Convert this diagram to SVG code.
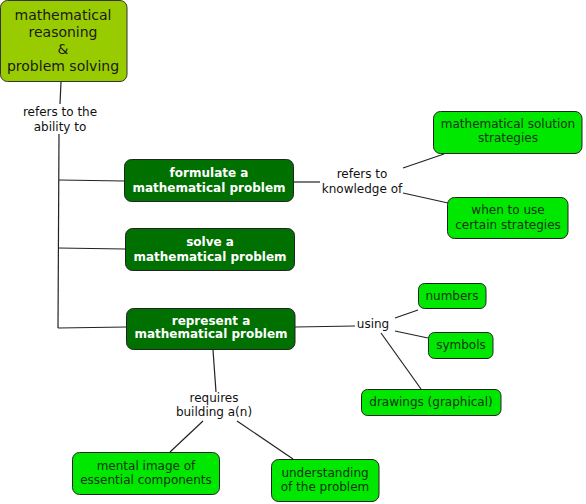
<svg xmlns="http://www.w3.org/2000/svg" width="586" height="504" viewBox="0 0 586 504">
<style>
text{font-family:"DejaVu Sans",Verdana,sans-serif;font-size:12px;text-anchor:middle;dominant-baseline:central;fill:#1a1a1a}
.root rect{fill:#99cc00;stroke:#333;stroke-width:1}
.root text{font-size:14px}
.dark rect{fill:#007000;stroke:#222;stroke-width:1}
.dark text{fill:#fff;font-weight:bold}
.lite rect{fill:#00e800;stroke:#222;stroke-width:1}
.lite text{fill:#143314}
.lbl text{fill:#111}
#connectors line{stroke:#222;stroke-width:1.2}
</style>
<rect width="586" height="504" fill="#fff"/>
<g id="connectors">
<line x1="61" y1="82" x2="60" y2="104"/>
<line x1="59" y1="134" x2="58" y2="328"/>
<line x1="59" y1="180" x2="124" y2="181"/>
<line x1="58" y1="248" x2="125" y2="249"/>
<line x1="58" y1="328" x2="127" y2="327"/>
<line x1="293" y1="182" x2="320" y2="182"/>
<line x1="403" y1="168" x2="444" y2="154"/>
<line x1="403" y1="193" x2="448" y2="203"/>
<line x1="295" y1="327" x2="355" y2="326"/>
<line x1="395" y1="318" x2="418" y2="310"/>
<line x1="395" y1="331" x2="428" y2="338"/>
<line x1="381" y1="333" x2="421" y2="389"/>
<line x1="213" y1="350" x2="216" y2="392"/>
<line x1="203" y1="421" x2="170" y2="452"/>
<line x1="237" y1="421" x2="293" y2="459"/>
</g>
<g id="n-root" class="root">
<rect x="0.5" y="0.5" width="126.5" height="81" rx="7"/>
<text x="63" y="15">mathematical</text>
<text x="63" y="32">reasoning</text>
<text x="63" y="49">&amp;</text>
<text x="63" y="66">problem solving</text>
</g>
<g id="l-refers-ability" class="lbl">
<rect x="18" y="104" width="84" height="30" fill="#fff"/>
<text x="60" y="112">refers to the</text>
<text x="60" y="127">ability to</text>
</g>
<g id="n-formulate" class="dark">
<rect x="124.5" y="159.5" width="169" height="42" rx="7"/>
<text x="209" y="173">formulate a</text>
<text x="209" y="188">mathematical problem</text>
</g>
<g id="n-solve" class="dark">
<rect x="125.5" y="228.5" width="169" height="42" rx="7"/>
<text x="210" y="242">solve a</text>
<text x="210" y="257">mathematical problem</text>
</g>
<g id="n-represent" class="dark">
<rect x="126.5" y="308.5" width="168.5" height="41" rx="7"/>
<text x="211" y="321">represent a</text>
<text x="211" y="334">mathematical problem</text>
</g>
<g id="l-knowledge" class="lbl">
<text x="362" y="174">refers to</text>
<text x="362" y="189">knowledge of</text>
</g>
<g id="n-strategies" class="lite">
<rect x="433.5" y="111.5" width="148.5" height="42" rx="7"/>
<text x="508" y="124">mathematical solution</text>
<text x="508" y="138">strategies</text>
</g>
<g id="n-when" class="lite">
<rect x="447.5" y="197.5" width="120.5" height="41" rx="7"/>
<text x="508" y="210">when to use</text>
<text x="508" y="225">certain strategies</text>
</g>
<g id="l-using" class="lbl">
<text x="373" y="324">using</text>
</g>
<g id="n-numbers" class="lite">
<rect x="418.5" y="283.5" width="67.5" height="25" rx="6"/>
<text x="452" y="296">numbers</text>
</g>
<g id="n-symbols" class="lite">
<rect x="428.5" y="332.5" width="64.5" height="26" rx="6"/>
<text x="461" y="345">symbols</text>
</g>
<g id="n-drawings" class="lite">
<rect x="361.5" y="389.5" width="139.5" height="26" rx="6"/>
<text x="431" y="402">drawings (graphical)</text>
</g>
<g id="l-requires" class="lbl">
<text x="214" y="398">requires</text>
<text x="214" y="412">building a(n)</text>
</g>
<g id="n-mental" class="lite">
<rect x="72.5" y="452.5" width="147" height="42" rx="7"/>
<text x="146" y="466">mental image of</text>
<text x="146" y="480">essential components</text>
</g>
<g id="n-understanding" class="lite">
<rect x="271.5" y="459.5" width="107.5" height="42" rx="7"/>
<text x="325" y="473">understanding</text>
<text x="325" y="487">of the problem</text>
</g>
</svg>
